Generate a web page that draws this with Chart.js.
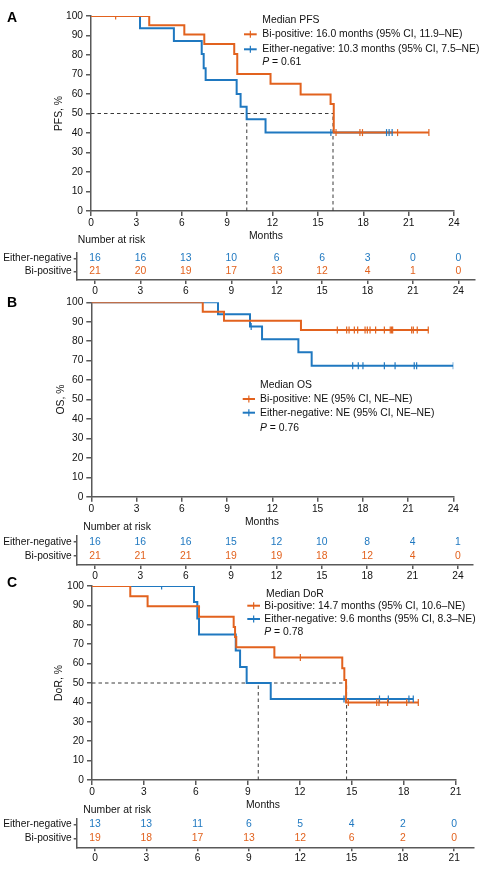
<!DOCTYPE html>
<html>
<head>
<meta charset="utf-8">
<script src="https://cdn.jsdelivr.net/npm/chart.js@4.4.1/dist/chart.umd.min.js"></script>
<style>
  html, body { margin: 0; padding: 0; background: #fff; }
  #wrap { position: relative; width: 501px; height: 875px; overflow: hidden; }
  .box { position: absolute; left: 0; width: 501px; }
</style>
</head>
<body>
<div id="wrap"></div>
<script>
const FONT = "'Liberation Sans', Arial, Helvetica, sans-serif";
const ORANGE = '#E2621E';
const BLUE = '#1F78C0';
const AXIS = '#595959';
const INK = '#111111';
const TXT = '10.4px ';

// ---- data ----
const yTicks = [0, 10, 20, 30, 40, 50, 60, 70, 80, 90, 100];
const months24 = [0, 3, 6, 9, 12, 15, 18, 21, 24];
const months21 = [0, 3, 6, 9, 12, 15, 18, 21];
const riskGroups = ['Either-negative', 'Bi-positive'];

// A: PFS
const pfsPosTime = [0, 3.85, 6.17, 7.49, 9.47, 9.67, 11.87, 13.86, 15.84, 16.05];
const pfsPosSurv = [100, 95.2, 90.5, 85.7, 80.5, 70.3, 65.2, 59.8, 54.9, 40.2];
const pfsPosCensor = [1.63, 16.2, 17.78, 17.95, 20.27, 22.34];
const pfsNegTime = [0, 3.24, 5.48, 7.32, 7.45, 7.58, 9.63, 9.89, 10.29, 11.54];
const pfsNegSurv = [100, 93.7, 87.2, 80.5, 73.2, 67.2, 60.0, 53.5, 47.0, 40.2];
const pfsNegCensor = [15.86, 19.54, 19.71, 19.91];
const pfsMedian = [16.0, 10.3];
const pfsRiskNeg = [16, 16, 13, 10, 6, 6, 3, 0, 0];
const pfsRiskPos = [21, 20, 19, 17, 13, 12, 4, 1, 0];

// B: OS
const osPosTime = [0, 7.39, 8.8, 13.9];
const osPosSurv = [100, 95.2, 90.5, 85.7];
const osPosCensor = [16.31, 16.93, 17.09, 17.44, 17.66, 18.15, 18.30, 18.48, 18.85, 19.43, 19.82, 19.91, 19.98, 21.24, 21.35, 21.61, 22.34];
const osNegTime = [0, 8.4, 10.52, 11.32, 13.73, 14.61];
const osNegSurv = [100, 93.8, 87.5, 81.0, 74.3, 67.4];
const osNegCensor = [10.6, 17.33, 17.7, 18.01, 19.43, 20.14, 21.41, 21.57, 24.0];
const osMedian = [];
const osRiskNeg = [16, 16, 16, 15, 12, 10, 8, 4, 1];
const osRiskPos = [21, 21, 21, 19, 19, 18, 12, 4, 0];

// C: DoR
const dorPosTime = [0, 2.21, 3.21, 6.18, 8.18, 8.26, 8.33, 10.53, 14.45, 14.57, 14.67];
const dorPosSurv = [100, 94.7, 89.5, 84.2, 78.9, 73.7, 68.4, 63.2, 57.6, 51.5, 39.9];
const dorPosCensor = [12.03, 14.8, 16.44, 16.57, 17.07, 18.17, 18.84];
const dorNegTime = [0, 5.89, 6.08, 6.18, 8.3, 8.55, 8.93, 10.32];
const dorNegSurv = [100, 91.7, 83.3, 75.0, 66.7, 58.3, 50.0, 41.7];
const dorNegCensor = [4.02, 14.55, 16.6, 17.11, 18.3, 18.55];
const dorMedian = [14.7, 9.6];
const dorRiskNeg = [13, 13, 11, 6, 5, 4, 2, 0];
const dorRiskPos = [19, 18, 17, 13, 12, 6, 2, 0];

// ---- panels (layout in px) ----
const panels = [
  {
    letter: 'A', yTitle: 'PFS, %', xMax: 24, xTicks: months24,
    pos: [pfsPosTime, pfsPosSurv, pfsPosCensor], neg: [pfsNegTime, pfsNegSurv, pfsNegCensor],
    medians: pfsMedian, riskNeg: pfsRiskNeg, riskPos: pfsRiskPos,
    legend: {
      title: 'Median PFS', p: '0.61',
      rows: ['Bi-positive: 16.0 months (95% CI, 11.9\u2013NE)', 'Either-negative: 10.3 months (95% CI, 7.5\u2013NE)']
    },
    km: { top: 0, h: 245, left: 91, right: 454, plotTop: 16, plotBottom: 211, letterY: 18, yTitleX: 58.5, monthsX: 266,
          titleX: 262.3, titleY: 20, rowY: [34.3, 49.3], pY: 61.7, markX: [244, 256.7], textX: 262.3 },
    risk: { top: 228, h: 72, left: 76.7, right: 475, plotTop: 25, plotBottom: 52, xMin: -1.21, xMax: 25.1, titleX: 77.7, titleY: 12 }
  },
  {
    letter: 'B', yTitle: 'OS, %', xMax: 24, xTicks: months24,
    pos: [osPosTime, osPosSurv, osPosCensor], neg: [osNegTime, osNegSurv, osNegCensor],
    medians: osMedian, riskNeg: osRiskNeg, riskPos: osRiskPos,
    legend: {
      title: 'Median OS', p: '0.76',
      rows: ['Bi-positive: NE (95% CI, NE\u2013NE)', 'Either-negative: NE (95% CI, NE\u2013NE)']
    },
    km: { top: 290, h: 245, left: 91.3, right: 453.3, plotTop: 12.3, plotBottom: 206.7, letterY: 13, yTitleX: 61, monthsX: 262,
          titleX: 260, titleY: 95, rowY: [109, 122.7], pY: 138.3, markX: [242.7, 255], textX: 260 },
    risk: { top: 513, h: 72, left: 76.7, right: 473, plotTop: 23, plotBottom: 52, xMin: -1.21, xMax: 25.0, titleX: 83.3, titleY: 13.7 }
  },
  {
    letter: 'C', yTitle: 'DoR, %', xMax: 21, xTicks: months21,
    pos: [dorPosTime, dorPosSurv, dorPosCensor], neg: [dorNegTime, dorNegSurv, dorNegCensor],
    medians: dorMedian, riskNeg: dorRiskNeg, riskPos: dorRiskPos,
    legend: {
      title: 'Median DoR', p: '0.78',
      rows: ['Bi-positive: 14.7 months (95% CI, 10.6\u2013NE)', 'Either-negative: 9.6 months (95% CI, 8.3\u2013NE)']
    },
    km: { top: 575, h: 245, left: 92, right: 455.7, plotTop: 11, plotBottom: 205, letterY: 8, yTitleX: 59, monthsX: 263,
          titleX: 266, titleY: 19, rowY: [30.7, 44], pY: 57.3, markX: [247.3, 260], textX: 264.3 },
    risk: { top: 795, h: 72, left: 76.7, right: 473.3, plotTop: 23.7, plotBottom: 52.3, xMin: -1.07, xMax: 22.12, titleX: 83.3, titleY: 15 }
  }
];

Chart.defaults.font.family = FONT;
Chart.defaults.font.size = 10.2;
Chart.defaults.color = INK;

function addCanvas(top, h) {
  const div = document.createElement('div');
  div.className = 'box';
  div.style.top = top + 'px';
  div.style.height = h + 'px';
  const c = document.createElement('canvas');
  div.appendChild(c);
  document.getElementById('wrap').appendChild(div);
  return c;
}

function survAt(times, surv, t) {
  let s = surv[0];
  for (let i = 0; i < times.length; i++) if (times[i] <= t) s = surv[i];
  return s;
}

function curveSet([times, surv, censor], color) {
  const pts = times.map((t, i) => ({ x: t, y: surv[i] }));
  const end = Math.max(...censor);
  if (end > times[times.length - 1]) pts.push({ x: end, y: surv[surv.length - 1] });
  return { data: pts, borderColor: color, borderWidth: 2, stepped: 'before', pointRadius: 0, fill: false };
}

function censorSet([times, surv, censor], color) {
  return {
    data: censor.map(t => ({ x: t, y: survAt(times, surv, t) })),
    showLine: false, pointStyle: 'line', pointRotation: 90, pointRadius: 3.5,
    pointBorderWidth: 1.2, pointBorderColor: color, borderColor: color
  };
}

function medianSets(medians) {
  if (!medians.length) return [];
  const far = Math.max(...medians);
  const segs = [[{ x: 0, y: 50 }, { x: far, y: 50 }]];
  medians.forEach(m => segs.push([{ x: m, y: 0 }, { x: m, y: 50 }]));
  return segs.map(d => ({ data: d, borderColor: '#3a3a3a', borderWidth: 1, borderDash: [3.5, 3], pointRadius: 0, fill: false }));
}

function axisGrid(len) {
  return { display: true, drawOnChartArea: false, drawTicks: true, tickLength: len, color: AXIS, lineWidth: 1.5 };
}
const axisBorder = { display: true, color: AXIS, width: 1.5 };

function kmDecor(p) {
  const k = p.km, lg = p.legend;
  return {
    id: 'kmDecor',
    afterDraw(chart) {
      const ctx = chart.ctx, a = chart.chartArea;
      ctx.save();
      ctx.fillStyle = '#000';
      ctx.textBaseline = 'middle';
      ctx.textAlign = 'left';
      ctx.font = 'bold 14px ' + FONT;
      ctx.fillText(p.letter, 7, k.letterY);

      ctx.fillStyle = INK;
      ctx.font = TXT + FONT;
      ctx.textAlign = 'center';
      ctx.fillText('Months', k.monthsX, a.bottom + 25);

      ctx.textAlign = 'left';
      ctx.fillText(lg.title, k.titleX, k.titleY);
      [ORANGE, BLUE].forEach((col, i) => {
        const y = k.rowY[i];
        ctx.strokeStyle = col;
        ctx.lineWidth = 2;
        ctx.beginPath();
        ctx.moveTo(k.markX[0], y); ctx.lineTo(k.markX[1], y);
        ctx.stroke();
        const mx = (k.markX[0] + k.markX[1]) / 2;
        ctx.lineWidth = 1.2;
        ctx.beginPath();
        ctx.moveTo(mx, y - 3.5); ctx.lineTo(mx, y + 3.5);
        ctx.stroke();
        ctx.fillStyle = INK;
        ctx.fillText(lg.rows[i], k.textX, y);
      });
      ctx.font = 'italic ' + TXT + FONT;
      ctx.fillText('P', k.textX, k.pY);
      const w = ctx.measureText('P').width;
      ctx.font = TXT + FONT;
      ctx.fillText(' = ' + lg.p, k.textX + w, k.pY);
      ctx.restore();
    }
  };
}

function riskDecor(p) {
  const r = p.risk;
  return {
    id: 'riskDecor',
    afterDatasetsDraw(chart) {
      const ctx = chart.ctx;
      ctx.save();
      ctx.font = TXT + FONT;
      ctx.textAlign = 'center';
      ctx.textBaseline = 'middle';
      chart.data.datasets.forEach((ds, i) => {
        ctx.fillStyle = ds.textColor;
        chart.getDatasetMeta(i).data.forEach((pt, j) => {
          ctx.fillText(String(ds.counts[j]), pt.x, pt.y);
        });
      });
      ctx.fillStyle = INK;
      ctx.textAlign = 'left';
      ctx.fillText('Number at risk', r.titleX, r.titleY);
      ctx.restore();
    }
  };
}

function kmChart(p) {
  const k = p.km;
  const canvas = addCanvas(k.top, k.h);
  new Chart(canvas, {
    type: 'line',
    data: {
      datasets: [
        censorSet(p.pos, ORANGE),
        censorSet(p.neg, BLUE),
        curveSet(p.pos, ORANGE),
        curveSet(p.neg, BLUE),
        ...medianSets(p.medians)
      ]
    },
    options: {
      responsive: true, maintainAspectRatio: false, animation: false, events: [],
      layout: { padding: { top: k.plotTop, right: 501 - k.right, bottom: 0, left: 0 } },
      plugins: { legend: { display: false }, tooltip: { enabled: false } },
      scales: {
        x: {
          type: 'linear', min: 0, max: p.xMax,
          afterBuildTicks: ax => { ax.ticks = p.xTicks.map(v => ({ value: v })); },
          afterFit: ax => { ax.height = k.h - k.plotBottom; },
          grid: axisGrid(5), border: axisBorder,
          ticks: { padding: 1, color: INK, maxRotation: 0, autoSkip: false }
        },
        y: {
          type: 'linear', min: 0, max: 100,
          afterBuildTicks: ax => { ax.ticks = yTicks.map(v => ({ value: v })); },
          afterFit: ax => { ax.width = k.left; },
          grid: axisGrid(5), border: axisBorder,
          ticks: { padding: 3, color: INK, autoSkip: false },
          title: { display: true, text: p.yTitle, color: INK, font: { size: 10.4 }, padding: { top: k.yTitleX - 6, bottom: 0 } }
        }
      }
    },
    plugins: [kmDecor(p)]
  });
}

function riskChart(p) {
  const r = p.risk;
  const canvas = addCanvas(r.top, r.h);
  new Chart(canvas, {
    type: 'scatter',
    data: {
      datasets: [
        { data: p.xTicks.map(m => ({ x: m, y: 1 })), counts: p.riskNeg, textColor: BLUE, pointRadius: 0 },
        { data: p.xTicks.map(m => ({ x: m, y: 0 })), counts: p.riskPos, textColor: ORANGE, pointRadius: 0 }
      ]
    },
    options: {
      responsive: true, maintainAspectRatio: false, animation: false, events: [],
      layout: { padding: { top: r.plotTop, right: 501 - r.right, bottom: 0, left: 0 } },
      plugins: { legend: { display: false }, tooltip: { enabled: false } },
      scales: {
        x: {
          type: 'linear', min: r.xMin, max: r.xMax,
          afterBuildTicks: ax => { ax.ticks = p.xTicks.map(v => ({ value: v })); },
          afterFit: ax => { ax.height = r.h - r.plotBottom; },
          grid: axisGrid(4), border: axisBorder,
          ticks: { padding: 1, color: INK, maxRotation: 0, autoSkip: false }
        },
        y: {
          type: 'linear', min: -0.63, max: 1.4,
          afterBuildTicks: ax => { ax.ticks = [{ value: 0 }, { value: 1 }]; },
          afterFit: ax => { ax.width = r.left; },
          grid: axisGrid(3), border: axisBorder,
          ticks: { padding: 2, color: INK, callback: v => (v === 1 ? riskGroups[0] : riskGroups[1]) }
        }
      }
    },
    plugins: [riskDecor(p)]
  });
}

panels.forEach(p => { kmChart(p); riskChart(p); });
</script>
</body>
</html>
